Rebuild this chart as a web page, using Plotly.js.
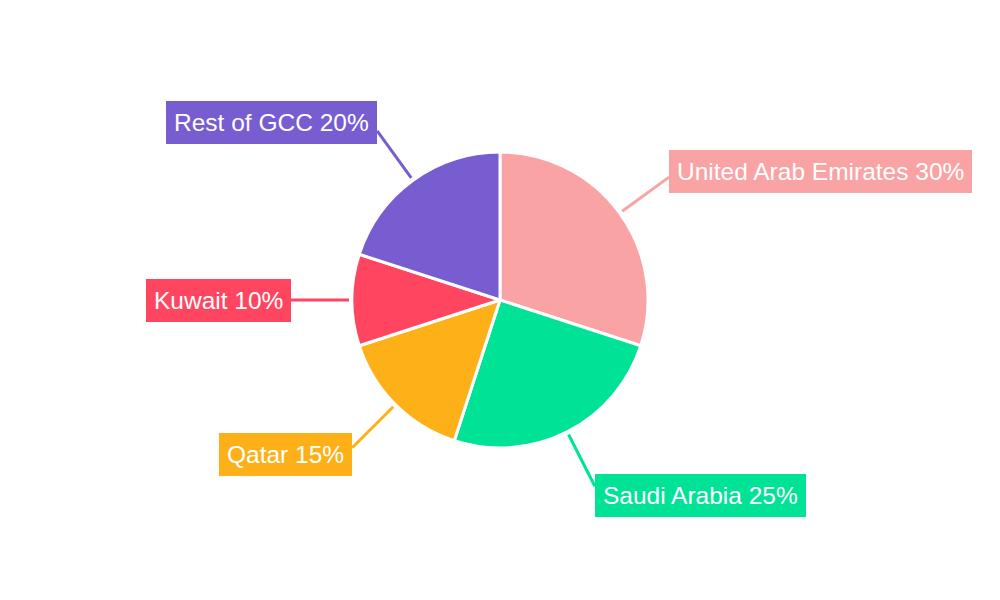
<!DOCTYPE html>
<html>
<head>
<meta charset="utf-8">
<script src="https://cdn.plot.ly/plotly-3.0.1.min.js"></script>
<style>html,body{margin:0;padding:0;background:#fff;}#chart{width:1000px;height:600px;}</style>
</head>
<body>
<div id="chart"></div>
<script>
const labels = ['United Arab Emirates', 'Saudi Arabia', 'Qatar', 'Kuwait', 'Rest of GCC'];
const values = [30, 25, 15, 10, 20];
const colors = ['#F9A3A4', '#00E396', '#FEB019', '#FF4560', '#775DD0'];

const W = 1000, H = 600, T = 152, B = 152;
const cx = W / 2, cy = T + (H - T - B) / 2;
const R = Math.min(W, H - T - B) / 2;
const r1 = R + 3, r2 = R + 61;
const labelLift = 10;
const toPx = px => px / W;
const toPy = py => (H - B - py) / (H - T - B);

const total = values.reduce((a, b) => a + b, 0);
const shapes = [], annotations = [];
let cum = 0;
values.forEach((v, i) => {
  const mid = (cum + v / 2) / total * 2 * Math.PI;
  cum += v;
  const sx = Math.sin(mid), sy = -Math.cos(mid);
  const x1 = cx + sx * r1, y1 = cy + sy * r1;
  const x2 = cx + sx * r2, y2 = cy + sy * r2;
  shapes.push({
    type: 'line', xref: 'paper', yref: 'paper',
    x0: toPx(x1), y0: toPy(y1), x1: toPx(x2), y1: toPy(y2),
    line: {color: colors[i], width: 3}, layer: 'below'
  });
  const pct = Math.round(v / total * 100);
  annotations.push({
    xref: 'paper', yref: 'paper', x: toPx(x2), y: toPy(y2 + sy * labelLift),
    xanchor: sx >= 0 ? 'left' : 'right', yanchor: 'middle',
    text: labels[i] + ' ' + pct + '%', showarrow: false,
    bgcolor: colors[i], borderpad: 8, borderwidth: 0,
    font: {family: 'Liberation Sans, Arial, sans-serif', size: 24.5, color: '#ffffff'}
  });
});

const data = [{
  type: 'pie', labels: labels, values: values,
  marker: {colors: colors, line: {color: '#ffffff', width: 3}},
  sort: false, direction: 'clockwise', rotation: 0,
  textinfo: 'none', hoverinfo: 'label+percent', showlegend: false
}];

const layout = {
  width: W, height: H,
  margin: {l: 0, r: 0, t: T, b: B, pad: 0},
  paper_bgcolor: '#ffffff', plot_bgcolor: '#ffffff',
  showlegend: false, shapes: shapes, annotations: annotations
};
Plotly.newPlot('chart', data, layout, {displayModeBar: false, staticPlot: true});
</script>
</body>
</html>
